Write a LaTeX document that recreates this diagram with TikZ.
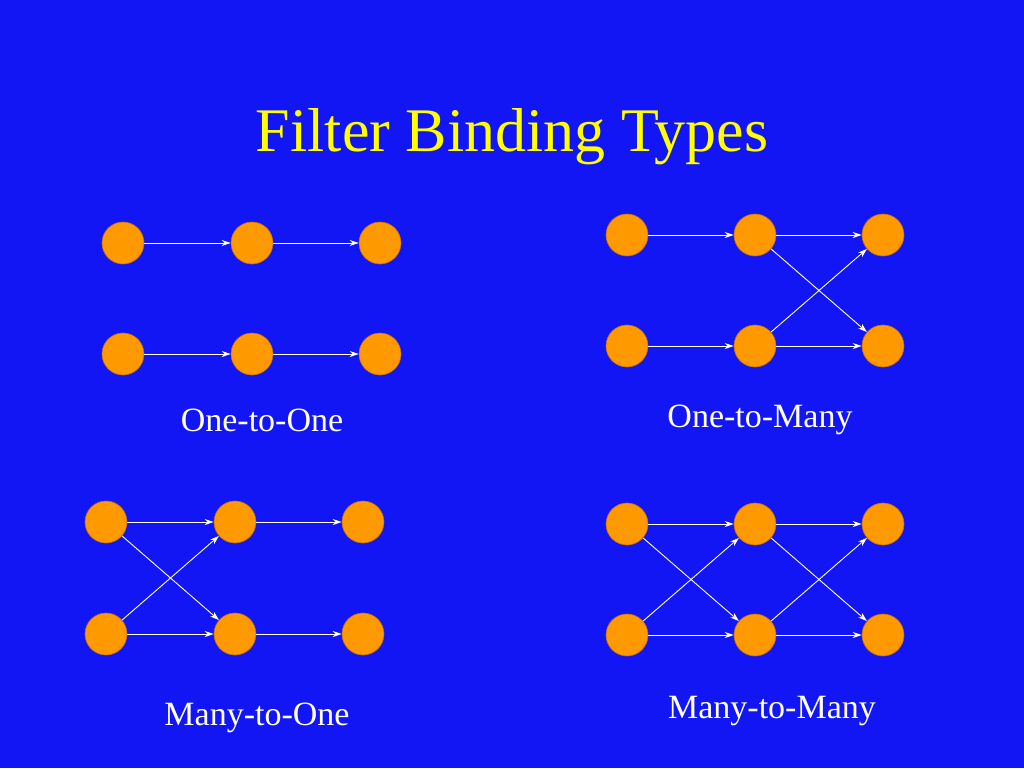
\documentclass[tikz,border=0pt]{standalone}
\usepackage{fontspec}
\setmainfont{Liberation Serif}
\usetikzlibrary{arrows.meta}
\definecolor{bgblue}{RGB}{18,22,245}
\definecolor{orng}{RGB}{255,153,0}
\definecolor{orngd}{RGB}{200,110,0}
\definecolor{ttl}{RGB}{255,255,0}
\begin{document}
\begin{tikzpicture}[x=1pt,y=-1pt,
  nd/.style={circle,fill=orng,draw=orngd,line width=0.6pt,minimum size=42pt,inner sep=0pt},
  ar/.style={white,line width=0.9pt,-{Stealth[length=9pt,width=6pt]}},
  lbl/.style={white,font=\fontsize{34}{38}\selectfont}]
\fill[bgblue] (0,0) rectangle (1024,768);
\useasboundingbox (0,0) rectangle (1024,768);
\node[text=ttl,font=\fontsize{62}{66}\selectfont] (title) at (512,137) {Filter Binding Types};
% one-to-one
\foreach \n/\x/\y in {a1/123/243,b1/252/243,c1/380/243,a2/123/354,b2/252/354,c2/380/354}
  \node[nd] (A\n) at (\x,\y) {};
\draw[ar] (Aa1)--(Ab1); \draw[ar] (Ab1)--(Ac1);
\draw[ar] (Aa2)--(Ab2); \draw[ar] (Ab2)--(Ac2);
\node[lbl] (l1) at (262,420) {One-to-One};
% one-to-many
\foreach \n/\x/\y in {a1/627/235,b1/755/235,c1/883/235,a2/627/346,b2/755/346,c2/883/346}
  \node[nd] (B\n) at (\x,\y) {};
\draw[ar] (Ba1)--(Bb1); \draw[ar] (Bb1)--(Bc1); \draw[ar] (Bb1)--(Bc2);
\draw[ar] (Ba2)--(Bb2); \draw[ar] (Bb2)--(Bc2); \draw[ar] (Bb2)--(Bc1);
\node[lbl] (l2) at (760,420) {One-to-Many};
% many-to-one
\foreach \n/\x/\y in {a1/106/522,b1/235/522,c1/363/522,a2/106/634,b2/235/634,c2/363/634}
  \node[nd] (C\n) at (\x,\y) {};
\draw[ar] (Ca1)--(Cb1); \draw[ar] (Ca1)--(Cb2); \draw[ar] (Ca2)--(Cb2); \draw[ar] (Ca2)--(Cb1);
\draw[ar] (Cb1)--(Cc1); \draw[ar] (Cb2)--(Cc2);
\node[lbl] (l3) at (257,718) {Many-to-One};
% many-to-many
\foreach \n/\x/\y in {a1/627/524,b1/755/524,c1/883/524,a2/627/635,b2/755/635,c2/883/635}
  \node[nd] (D\n) at (\x,\y) {};
\draw[ar] (Da1)--(Db1); \draw[ar] (Da1)--(Db2); \draw[ar] (Da2)--(Db2); \draw[ar] (Da2)--(Db1);
\draw[ar] (Db1)--(Dc1); \draw[ar] (Db1)--(Dc2); \draw[ar] (Db2)--(Dc2); \draw[ar] (Db2)--(Dc1);
\node[lbl] (l4) at (772,711) {Many-to-Many};
\end{tikzpicture}
\end{document}
